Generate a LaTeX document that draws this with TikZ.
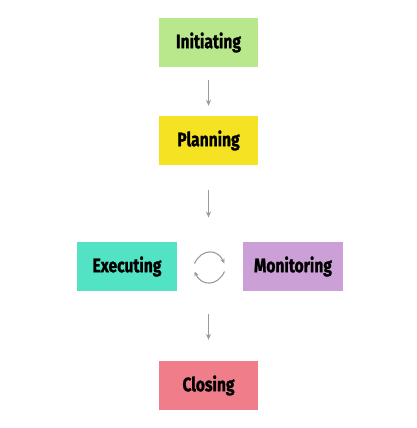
\documentclass[tikz,border=0pt]{standalone}
\usepackage{fontspec}
\setmainfont{Fira Sans}[FakeStretch=0.8, BoldFeatures={FakeBold=1.2}]
\usetikzlibrary{arrows.meta}

\definecolor{initgreen}{HTML}{B9E88C}
\definecolor{planyellow}{HTML}{F5E223}
\definecolor{execteal}{HTML}{52E3C4}
\definecolor{monlilac}{HTML}{CBA0D7}
\definecolor{closepink}{HTML}{EF7D8A}
\definecolor{flowgray}{HTML}{9A9A9A}

\begin{document}
\begin{tikzpicture}[
    x=1pt, y=-1pt,
    phase/.style={rectangle, minimum width=99pt, minimum height=49pt,
        inner sep=0pt, font=\fontsize{19.5}{22}\selectfont\bfseries},
    flow/.style={draw=flowgray, line width=1.1pt, -{Stealth[length=6pt,width=5pt]}},
    loop/.style={draw=flowgray, line width=1.1pt, -{Stealth[length=5pt,width=4.5pt]}}
]
\useasboundingbox (0,0) rectangle (417,428);

\node[phase, fill=initgreen] (init) at (208.5,42.5) {Initiating};
\node[phase, fill=planyellow] (plan) at (208.5,140.5) {Planning};
\node[phase, fill=execteal, minimum width=100pt] (exec) at (127,266.5) {Executing};
\node[phase, fill=monlilac, minimum width=100pt] (mon) at (293,266.5) {Monitoring};
\node[phase, fill=closepink] (close) at (208.5,385.5) {Closing};
\coordinate (cyc) at (209.5,267.5);

% phase flow
\draw[flow, shorten <=13pt, shorten >=10pt] (init) -- (plan);
\draw[flow, shorten <=25pt, shorten >=50pt] (plan.south) -- (plan.south |- cyc);
\draw[flow, shorten <=46pt, shorten >=21pt] (close.north |- cyc) -- (close.north);

% execute / monitor cycle
\draw[loop] ([shift={(-15,-4)}]cyc) .. controls ([shift={(-8,-19)}]cyc) and ([shift={(8,-19)}]cyc) .. ([shift={(15,-4)}]cyc);
\draw[loop] ([shift={(15,4)}]cyc) .. controls ([shift={(8,19)}]cyc) and ([shift={(-8,19)}]cyc) .. ([shift={(-15,4)}]cyc);
\end{tikzpicture}
\end{document}
